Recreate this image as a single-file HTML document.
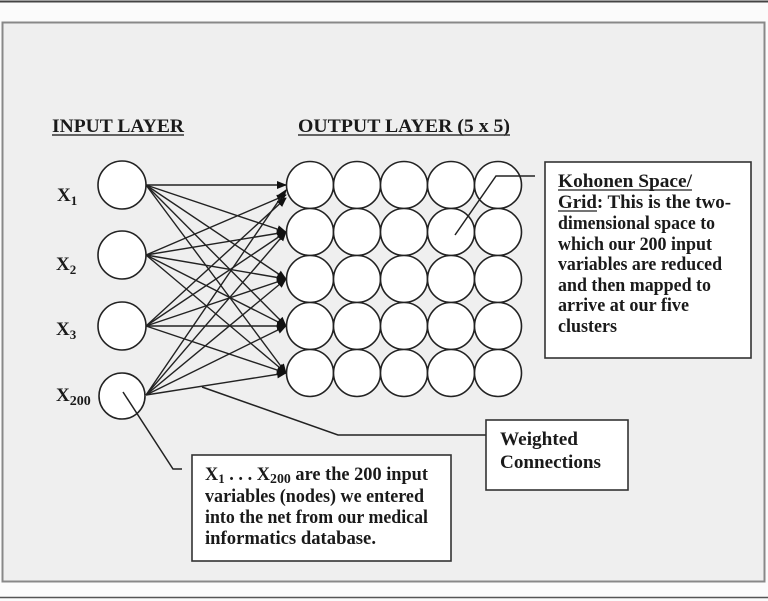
<!DOCTYPE html>
<html><head><style>
html,body{margin:0;padding:0;background:#fff;}
svg{display:block;}
text{font-family:"Liberation Serif",serif;font-weight:bold;fill:#1a1a1a;}
</style></head><body>
<svg width="768" height="601" viewBox="0 0 768 601" xmlns="http://www.w3.org/2000/svg">
<defs>
<marker id="a" markerWidth="10" markerHeight="8" refX="9" refY="4" orient="auto" markerUnits="userSpaceOnUse">
<path d="M0,0 L10,4 L0,8 Z" fill="#111"/>
</marker>
</defs>
<rect x="0" y="0" width="768" height="601" fill="#fbfbfb"/>
<line x1="0" y1="1.5" x2="768" y2="1.5" stroke="#444" stroke-width="2"/>
<line x1="0" y1="597.5" x2="768" y2="597.5" stroke="#555" stroke-width="1.5"/>
<rect x="2.5" y="22.5" width="762" height="559" fill="#efefef" stroke="#888" stroke-width="2"/>

<text x="52" y="132" font-size="19" textLength="132" lengthAdjust="spacingAndGlyphs">INPUT LAYER</text>
<line x1="52" y1="135" x2="184" y2="135" stroke="#333" stroke-width="1.5"/>
<text x="298" y="132" font-size="19" textLength="212" lengthAdjust="spacingAndGlyphs">OUTPUT LAYER (5 x 5)</text>
<line x1="298" y1="135" x2="510" y2="135" stroke="#333" stroke-width="1.5"/>

<g stroke="#222" stroke-width="1.4" marker-end="url(#a)">
<line x1="146" y1="185" x2="286" y2="185"/>
<line x1="146" y1="185" x2="286" y2="232"/>
<line x1="146" y1="185" x2="286" y2="279"/>
<line x1="146" y1="185" x2="286" y2="326"/>
<line x1="146" y1="185" x2="286" y2="373"/>
<line x1="146" y1="255" x2="286" y2="195"/>
<line x1="146" y1="255" x2="286" y2="232"/>
<line x1="146" y1="255" x2="286" y2="279"/>
<line x1="146" y1="255" x2="286" y2="326"/>
<line x1="146" y1="255" x2="286" y2="373"/>
<line x1="146" y1="326" x2="286" y2="198"/>
<line x1="146" y1="326" x2="286" y2="232"/>
<line x1="146" y1="326" x2="286" y2="279"/>
<line x1="146" y1="326" x2="286" y2="326"/>
<line x1="146" y1="326" x2="286" y2="373"/>
<line x1="146" y1="395" x2="286" y2="190"/>
<line x1="146" y1="395" x2="286" y2="232"/>
<line x1="146" y1="395" x2="286" y2="279"/>
<line x1="146" y1="395" x2="286" y2="326"/>
<line x1="146" y1="395" x2="286" y2="373"/>
</g>

<g fill="#fff" stroke="#222" stroke-width="1.6">
<circle cx="122" cy="185" r="24"/>
<circle cx="122" cy="255" r="24"/>
<circle cx="122" cy="326" r="24"/>
<circle cx="122" cy="396" r="23"/>
</g>
<g fill="#fff" stroke="#222" stroke-width="1.6">
<circle cx="310" cy="185" r="23.5"/><circle cx="357" cy="185" r="23.5"/><circle cx="404" cy="185" r="23.5"/><circle cx="451" cy="185" r="23.5"/><circle cx="498" cy="185" r="23.5"/>
<circle cx="310" cy="232" r="23.5"/><circle cx="357" cy="232" r="23.5"/><circle cx="404" cy="232" r="23.5"/><circle cx="451" cy="232" r="23.5"/><circle cx="498" cy="232" r="23.5"/>
<circle cx="310" cy="279" r="23.5"/><circle cx="357" cy="279" r="23.5"/><circle cx="404" cy="279" r="23.5"/><circle cx="451" cy="279" r="23.5"/><circle cx="498" cy="279" r="23.5"/>
<circle cx="310" cy="326" r="23.5"/><circle cx="357" cy="326" r="23.5"/><circle cx="404" cy="326" r="23.5"/><circle cx="451" cy="326" r="23.5"/><circle cx="498" cy="326" r="23.5"/>
<circle cx="310" cy="373" r="23.5"/><circle cx="357" cy="373" r="23.5"/><circle cx="404" cy="373" r="23.5"/><circle cx="451" cy="373" r="23.5"/><circle cx="498" cy="373" r="23.5"/>
</g>

<text x="57" y="201" font-size="19">X<tspan font-size="13" dy="4">1</tspan></text>
<text x="56" y="270" font-size="19">X<tspan font-size="13" dy="4">2</tspan></text>
<text x="56" y="335" font-size="19">X<tspan font-size="13" dy="4">3</tspan></text>
<text x="56" y="401" font-size="19">X<tspan font-size="14" dy="4">200</tspan></text>

<g fill="none" stroke="#222" stroke-width="1.5">
<polyline points="535,176 496,176 455,235"/>
<polyline points="486,435 338,435 202,387"/>
<polyline points="182,469 173,469 123,392"/>
</g>

<rect x="545" y="162" width="206" height="196" fill="#fff" stroke="#333" stroke-width="1.6"/>
<g font-size="18.5">
<text x="558" y="187" textLength="134" lengthAdjust="spacingAndGlyphs">Kohonen Space/</text>
<line x1="558" y1="190" x2="692" y2="190" stroke="#222" stroke-width="1.3"/>
<text x="558" y="208" textLength="173" lengthAdjust="spacingAndGlyphs">Grid:  This is the two-</text>
<line x1="558" y1="211" x2="597" y2="211" stroke="#222" stroke-width="1.3"/>
<text x="558" y="229" textLength="157" lengthAdjust="spacingAndGlyphs">dimensional space to</text>
<text x="558" y="250" textLength="154" lengthAdjust="spacingAndGlyphs">which our 200 input</text>
<text x="558" y="270" textLength="164" lengthAdjust="spacingAndGlyphs">variables are reduced</text>
<text x="558" y="291" textLength="153" lengthAdjust="spacingAndGlyphs">and then mapped to</text>
<text x="558" y="311" textLength="131" lengthAdjust="spacingAndGlyphs">arrive at our five</text>
<text x="558" y="332" textLength="59" lengthAdjust="spacingAndGlyphs">clusters</text>
</g>

<rect x="486" y="420" width="142" height="70" fill="#fff" stroke="#333" stroke-width="1.6"/>
<g font-size="19">
<text x="500" y="445" textLength="78" lengthAdjust="spacingAndGlyphs">Weighted</text>
<text x="500" y="468" textLength="101" lengthAdjust="spacingAndGlyphs">Connections</text>
</g>

<rect x="192" y="455" width="259" height="106" fill="#fff" stroke="#333" stroke-width="1.6"/>
<g font-size="18.5">
<text x="205" y="480" textLength="223" lengthAdjust="spacingAndGlyphs">X<tspan font-size="13" dy="3">1</tspan><tspan dy="-3"> . . . X</tspan><tspan font-size="14" dy="3">200</tspan><tspan dy="-3"> are the 200 input</tspan></text>
<text x="205" y="502" textLength="219" lengthAdjust="spacingAndGlyphs">variables (nodes) we entered</text>
<text x="205" y="523" textLength="223" lengthAdjust="spacingAndGlyphs">into the net from our medical</text>
<text x="205" y="544" textLength="171" lengthAdjust="spacingAndGlyphs">informatics database.</text>
</g>
</svg>
</body></html>
